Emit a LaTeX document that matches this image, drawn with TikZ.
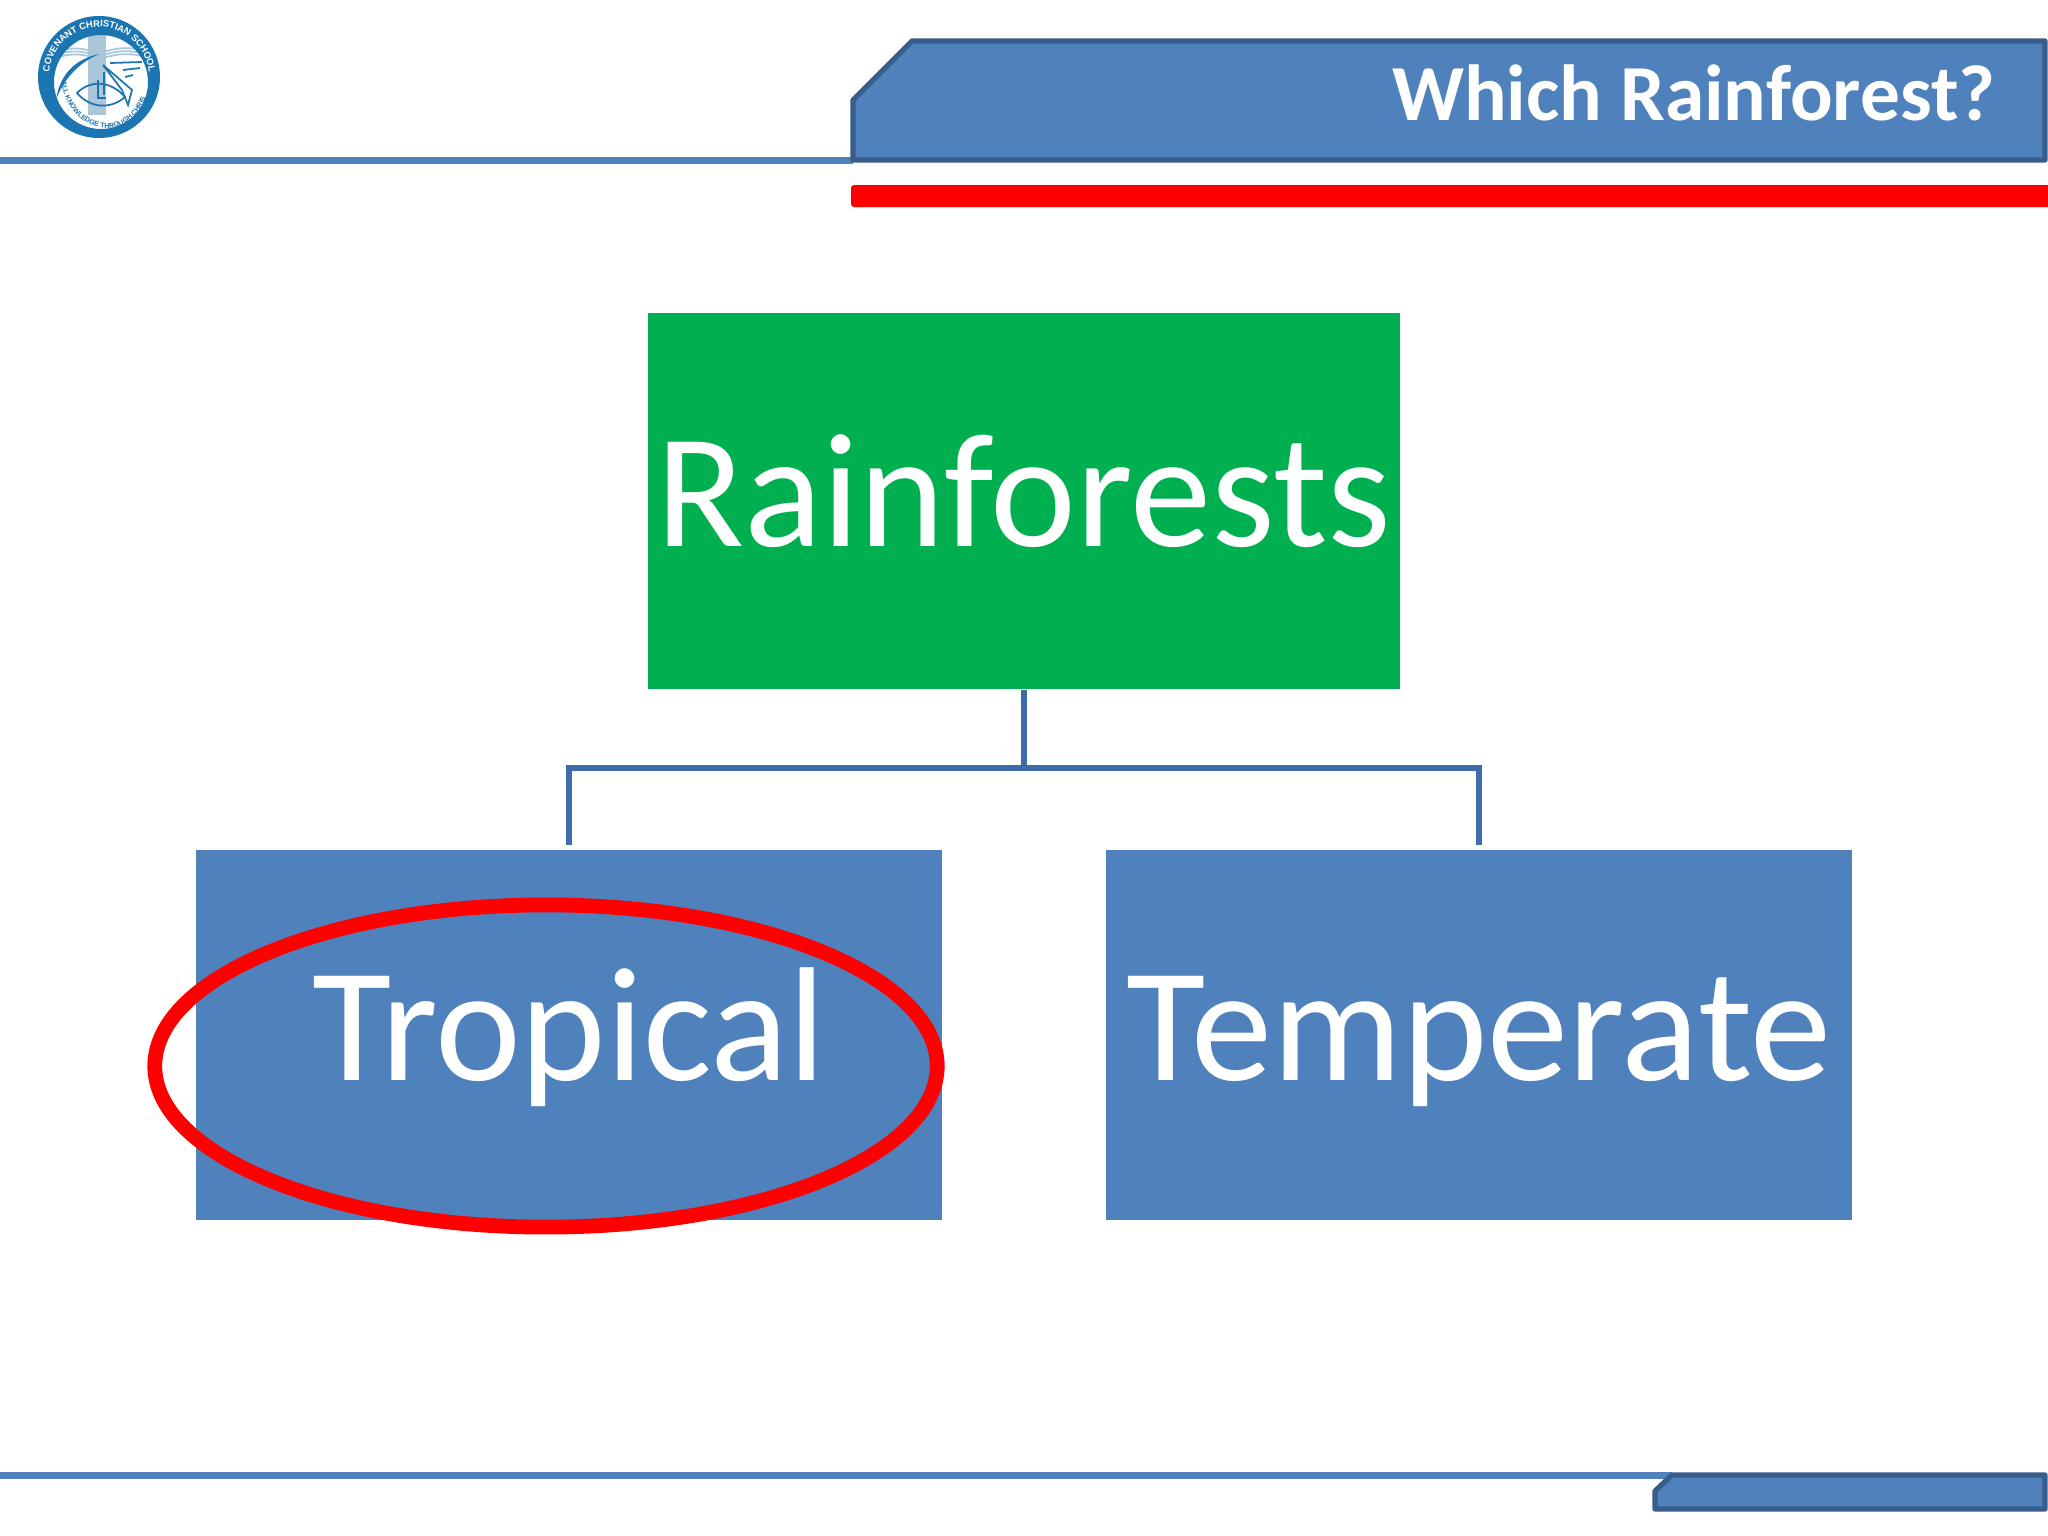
\documentclass[tikz,border=0pt]{standalone}
\usepackage{fontspec}
\setmainfont{Carlito}
\setsansfont{Liberation Sans}
\usepackage{xcolor}
\usetikzlibrary{positioning,calc,shapes.geometric,decorations.text}
\definecolor{SlideBlue}{HTML}{4F81BD}
\definecolor{SlideEdge}{HTML}{385D8A}
\definecolor{SlideGreen}{HTML}{00B050}
\definecolor{SlideLine}{HTML}{3E6CA8}
\definecolor{LogoBlue}{HTML}{1B75B0}
\definecolor{LogoPale}{HTML}{A9C6DA}
\tikzset{
  topicbox/.style={fill=SlideBlue,minimum width=7.46cm,minimum height=3.70cm,inner sep=0pt,
    text=white,text height=0.9cm,text depth=0pt,font=\fontsize{46.2}{54}\selectfont},
  rootbox/.style={topicbox,fill=SlideGreen,minimum width=7.52cm,minimum height=3.76cm},
  treeline/.style={draw=SlideLine,line width=1.5pt},
  tabshape/.style={fill=SlideBlue,draw=SlideEdge,line width=1.5pt,line join=round},
  ruleline/.style={SlideBlue,line width=2pt},
  redring/.style={draw=red,line width=4.2pt,ellipse,minimum width=7.82cm,minimum height=3.22cm,inner sep=0pt},
  logoline/.style={LogoBlue,line width=0.5pt}
}
\begin{document}
\begin{tikzpicture}[x=0.01cm,y=-0.01cm]
  \path[use as bounding box] (0,0) rectangle (2048,1536);

  % header and footer
  \draw[ruleline] (0,160.5)--(853,160.5);
  \draw[ruleline] (0,1475)--(1672,1475);
  \draw[tabshape] (2045,160)--(853,160)--(853,100)--(912,41)--(2045,41)--cycle;
  \draw[tabshape] (2045,1475)--(1672,1475)--(1655,1491)--(1655,1509)--(2045,1509)--cycle;
  \fill[red,rounded corners=0.3mm] (851,185) rectangle (2060,207);
  \node[anchor=east,text=white,font=\fontsize{22.6}{27}\selectfont\bfseries,inner sep=0pt] (title) at (1996,93) {Which Rainforest?};

  % logo
  \fill[LogoPale] (88,32) rectangle (106,115);
  \foreach \d in {0,3,6}{
    \draw[LogoPale,line width=0.5pt] (59,51+\d) .. controls (75,46+\d) and (88,49+\d) .. (98,54+\d)
      .. controls (110,49+\d) and (125,46+\d) .. (142,50+\d);
  }
  \fill[LogoBlue] (100,54) .. controls (78,58) and (60,72) .. (56,100) .. controls (62,82) and (78,62) .. (100,54) -- cycle;
  \draw[logoline] (77,93) .. controls (90,80) and (110,80) .. (125,97) .. controls (110,110) and (90,108) .. (77,93) -- cycle;
  \draw[logoline] (103,65) -- (132,90) -- (128,105) -- (122,90) -- (103,65);
  \draw[logoline] (110,63)--(142,62) (123,70)--(140,68) (125,77)--(133,75);
  \draw[logoline] (98,80)--(98,98)--(106,98) (104,72)--(104,95);
  \fill[LogoBlue,even odd rule] (99,77) circle (61) (101,82) circle (47);
  \path[decorate,decoration={text along path,text align=center,
      text={|\sffamily\bfseries\fontsize{2.65}{3}\selectfont\color{white}|COVENANT CHRISTIAN SCHOOL}}]
    (52,94) arc[start angle=200,end angle=-20,x radius=50,y radius=-50];
  \path[decorate,decoration={text along path,text align=center,
      text={|\sffamily\bfseries\fontsize{2}{2}\selectfont\color{LogoBlue}|ALL KNOWLEDGE THROUGH CHRIST}}]
    (62,85) .. controls (68,128) and (125,150) .. (146,97);

  % chart
  \node[rootbox] (rainforests) at (1024,501) {Rainforests};
  \node[topicbox] (tropical) at (569,1035) {Tropical};
  \node[topicbox] (temperate) at (1479,1035) {Temperate};
  \coordinate (joint) at (1024,768);
  \coordinate (leftend) at (569,845);
  \coordinate (rightend) at (1479,845);
  \draw[treeline] (rainforests.south)--(joint);
  \draw[treeline] (leftend)--(leftend|-joint)--(joint);
  \draw[treeline] (joint)--(rightend|-joint)--(rightend);
  \node[redring] (ring) at (546,1066) {};
\end{tikzpicture}
\end{document}
